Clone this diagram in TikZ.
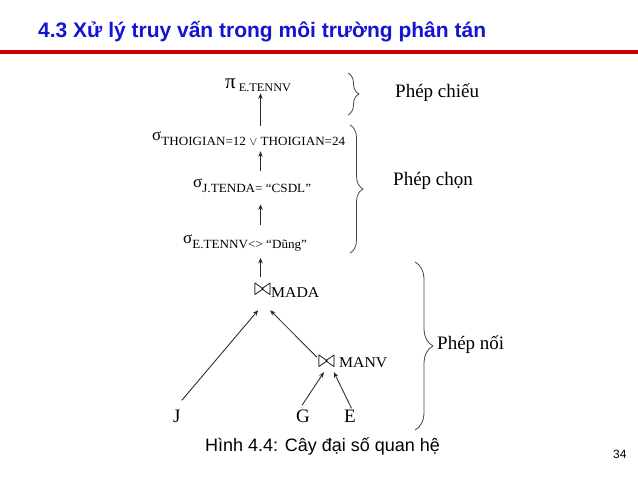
\documentclass[tikz,border=0pt]{standalone}
\usepackage{fontspec}
\setmainfont{Liberation Serif}
\newfontfamily\sansf{Liberation Sans}
\newfontfamily\wserif[FakeStretch=1.05]{Liberation Serif}
\usetikzlibrary{arrows.meta,decorations.pathreplacing}
\newcommand\fs[1]{\fontsize{#1}{#1}\selectfont}
\definecolor{titleblue}{RGB}{20,20,210}
\definecolor{rulered}{RGB}{204,0,0}
\definecolor{inkgray}{RGB}{40,40,40}
\definecolor{bracegray}{RGB}{70,70,70}
\tikzset{
  lbl/.style={inner sep=0pt, anchor=base west},
  arr/.style={-{Stealth[length=5.5pt,width=4.5pt]}, line width=0.85pt, draw=inkgray},
  bracebig/.style={decorate, decoration={brace, amplitude=#1}, line width=0.8pt, draw=bracegray},
}
\begin{document}
\begin{tikzpicture}[x=1pt,y=-1pt]
\useasboundingbox (0,0) rectangle (638,478);
\fill[white] (0,0) rectangle (638,478);
% title
\node[lbl, text=titleblue, font=\sansf\bfseries\fs{21}] (title) at (38,38) {4.3 Xử lý truy vấn trong môi trường phân tán};
\fill[rulered] (0,50) rectangle (638,54.5);
% tree nodes
\node[lbl] (pi) at (225,89) {\fs{21}π\hspace{3pt}\raisebox{-3pt}{\wserif\fs{11.7}E.TENNV}};
\node[lbl] (s1) at (152,141) {\fs{17}σ\raisebox{-5pt}{\wserif\fs{12.5}THOIGIAN=12 $\vee$ THOIGIAN=24}};
\node[lbl] (s2) at (193,188) {\fs{17}σ\raisebox{-5pt}{\wserif\fs{12.5}J.TENDA= “CSDL”}};
\node[lbl] (s3) at (183,244) {\fs{17}σ\raisebox{-5pt}{\wserif\fs{12.5}E.TENNV<> “Dũng”}};
\node[lbl] (bt1) at (254,296) {\scalebox{1}[1.2]{\fs{22}$\bowtie$}};
\node[lbl] (mada) at (271,298) {\wserif\fs{15}MADA};
\node[lbl] (bt2) at (318,368) {\scalebox{1}[1.2]{\fs{22}$\bowtie$}};
\node[lbl] (manv) at (339,368) {\wserif\fs{15}MANV};
\node[lbl] (J) at (173,423) {\fs{19}J};
\node[lbl] (G) at (296,423) {\fs{19}G};
\node[lbl] (E) at (344,423) {\fs{19}E};
\coordinate (ax) at (260.5,0);
% vertical arrows
\draw[arr, shorten <=6.5pt, shorten >=1pt] (s1.north -| ax) -- (pi.south -| ax);
\draw[arr, shorten <=8.5pt, shorten >=5pt] (s2.north -| ax) -- (s1.south -| ax);
\draw[arr, shorten <=10.5pt, shorten >=11pt] (s3.north -| ax) -- (s2.south -| ax);
\draw[arr, shorten <=7pt, shorten >=6pt] (bt1.north -| ax) -- (s3.south -| ax);
% join arrows
\draw[arr] ([xshift=1pt,yshift=10pt]J.north east) -- ([xshift=-4.5pt,yshift=-14pt]bt1.south);
\draw[arr] ([xshift=-1pt,yshift=-1pt]bt2.north west) -- ([xshift=7.5pt,yshift=-14pt]bt1.south);
\draw[arr] ([xshift=-1pt,yshift=5pt]G.north) -- ([xshift=-2.7pt,yshift=-4pt]bt2.south);
\draw[arr] ([xshift=1.5pt,yshift=2pt]E.north) -- ([xshift=7.3pt,yshift=-4pt]bt2.south);
% braces
\coordinate (b1t) at (348,73); \coordinate (b1b) at (348,115);
\coordinate (b2t) at (350,125); \coordinate (b2b) at (350,253);
\coordinate (b3t) at (415,262); \coordinate (b3b) at (415,430);
\draw[bracebig=11pt] (b1t) -- (b1b);
\draw[bracebig=13pt] (b2t) -- (b2b);
\draw[bracebig=18pt] (b3t) -- (b3b);
\node[lbl, font=\fs{19}] (chieu) at (395,98) {Phép chiếu};
\node[lbl, font=\fs{19}] (chon) at (393,186) {Phép chọn};
\node[lbl, font=\fs{19}] (noi) at (437,350) {Phép nối};
% caption
\node[lbl, font=\sansf\fs{18}] (cap) at (205,452) {Hình 4.4: Cây đại số quan hệ};
\node[lbl, font=\sansf\fs{12}] (page) at (613,459) {34};
\end{tikzpicture}
\end{document}
